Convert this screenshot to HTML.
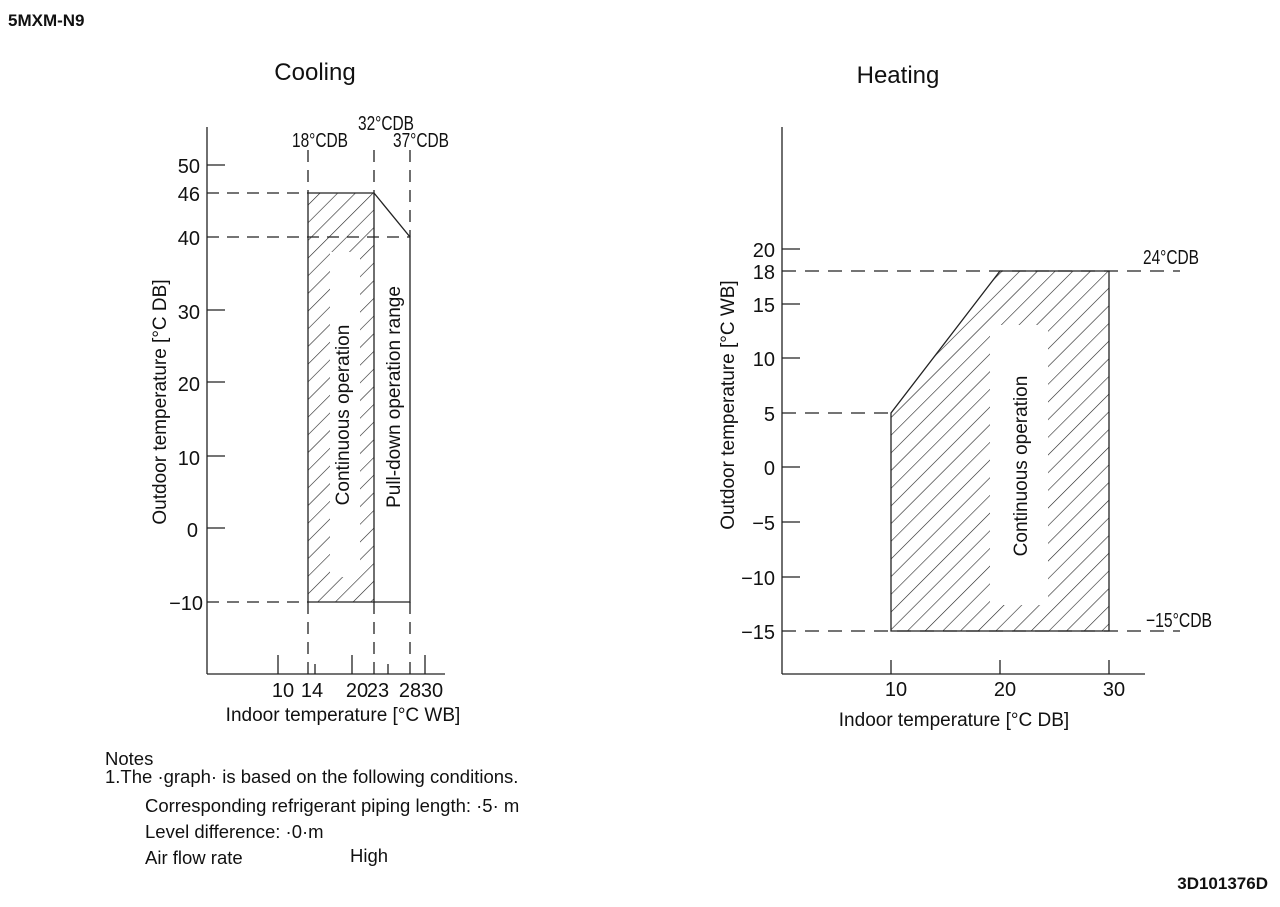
<!DOCTYPE html>
<html><head><meta charset="utf-8"><style>
body{margin:0;background:#fff;width:1280px;height:902px;overflow:hidden}
svg text{font-family:"Liberation Sans",sans-serif;fill:#111}
.n text{font-family:"Liberation Sans Narrow","Liberation Sans",sans-serif}
</style></head><body>
<svg width="1280" height="902" viewBox="0 0 1280 902" xmlns="http://www.w3.org/2000/svg">
<defs>
<pattern id="h" patternUnits="userSpaceOnUse" width="12.5" height="12.5" patternTransform="rotate(45)">
<line x1="0" y1="0" x2="0" y2="12.5" stroke="#222" stroke-width="1.2"/></pattern>
</defs>
<g stroke="#222" stroke-width="1.3" fill="none">
<line x1="207" y1="127" x2="207" y2="674"/><line x1="207" y1="674" x2="445" y2="674"/>
<path d="M207 165h18M207 310h18M207 382h18M207 456h18M207 528h18"/>
<path d="M278 655v19M352 655v19M425 655v19M315 664v10M388 664v10"/>
<rect x="308" y="193" width="66" height="409" fill="url(#h)" stroke="none"/>
<rect x="330" y="252" width="30" height="325" fill="#fff" stroke="none"/>
<path d="M308 193H374L410 237V602H308V193M374 193V602"/>
<g stroke-dasharray="12 8">
<path d="M207 193H308M207 237H410M207 602H308"/>
<path d="M308 150V193M308 602V674M374 150V193M374 602V674M410 150V237M410 602V674"/>
</g>
<line x1="782" y1="127" x2="782" y2="674"/><line x1="782" y1="674" x2="1145" y2="674"/>
<path d="M782 249h18M782 304h18M782 358h18M782 467h18M782 522h18M782 577h18"/>
<path d="M891 660v14M1000 660v14M1109 660v14"/>
<polygon points="891,631 891,413 1000,271 1109,271 1109,631" fill="url(#h)" stroke="none"/>
<rect x="990" y="325" width="58" height="280" fill="#fff" stroke="none"/>
<polygon points="891,631 891,413 1000,271 1109,271 1109,631"/>
<g stroke-dasharray="14 9">
<path d="M782 271H1180M782 631H1180M782 413H891"/>
</g>
</g>
<text x="8" y="26" style="font-weight:bold;font-size:17px">5MXM-N9</text>
<text x="1268" y="889" text-anchor="end" style="font-weight:bold;font-size:17px">3D101376D</text>
<text x="315" y="80" text-anchor="middle" font-size="24">Cooling</text>
<text x="898" y="83" text-anchor="middle" font-size="24">Heating</text>
<g class="n" font-size="20">
<text x="292" y="147" textLength="56" lengthAdjust="spacingAndGlyphs">18°CDB</text>
<text x="358" y="130" textLength="56" lengthAdjust="spacingAndGlyphs">32°CDB</text>
<text x="393" y="147" textLength="56" lengthAdjust="spacingAndGlyphs">37°CDB</text>
<g text-anchor="end">
<text x="200" y="173">50</text><text x="200" y="201">46</text><text x="200" y="245">40</text>
<text x="200" y="319">30</text><text x="200" y="391">20</text><text x="200" y="465">10</text>
<text x="198" y="537">0</text><text x="203" y="610">−10</text>
<text x="775" y="257">20</text><text x="775" y="279">18</text><text x="775" y="312">15</text>
<text x="775" y="366">10</text><text x="775" y="421">5</text><text x="775" y="475">0</text>
<text x="775" y="530">−5</text><text x="775" y="585">−10</text><text x="775" y="639">−15</text>
</g>
<g text-anchor="middle">
<text x="283" y="697">10</text><text x="312" y="697">14</text><text x="357" y="697">20</text>
<text x="378" y="697">23</text><text x="410" y="697">28</text><text x="432" y="697">30</text>
<text x="896" y="696">10</text><text x="1005" y="696">20</text><text x="1114" y="696">30</text>
</g>
<text x="1143" y="264" textLength="56" lengthAdjust="spacingAndGlyphs">24°CDB</text>
<text x="1146" y="627" textLength="66" lengthAdjust="spacingAndGlyphs">−15°CDB</text>
</g>
<g font-size="19">
<text x="343" y="721" text-anchor="middle">Indoor temperature [°C WB]</text>
<text x="954" y="726" text-anchor="middle">Indoor temperature [°C DB]</text>
<text transform="translate(166,402) rotate(-90)" text-anchor="middle">Outdoor temperature [°C DB]</text>
<text transform="translate(734,405) rotate(-90)" text-anchor="middle">Outdoor temperature [°C WB]</text>
<text transform="translate(349,415) rotate(-90)" text-anchor="middle">Continuous operation</text>
<text transform="translate(400,397) rotate(-90)" text-anchor="middle">Pull-down operation range</text>
<text transform="translate(1027,466) rotate(-90)" text-anchor="middle">Continuous operation</text>
</g>
<g font-size="18.5">
<text x="105" y="765">Notes</text>
<text x="105" y="783">1.The ·graph· is based on the following conditions.</text>
<text x="145" y="812">Corresponding refrigerant piping length: ·5· m</text>
<text x="145" y="838">Level difference: ·0·m</text>
<text x="145" y="864">Air flow rate</text><text x="350" y="862">High</text>
</g>
</svg>
</body></html>
